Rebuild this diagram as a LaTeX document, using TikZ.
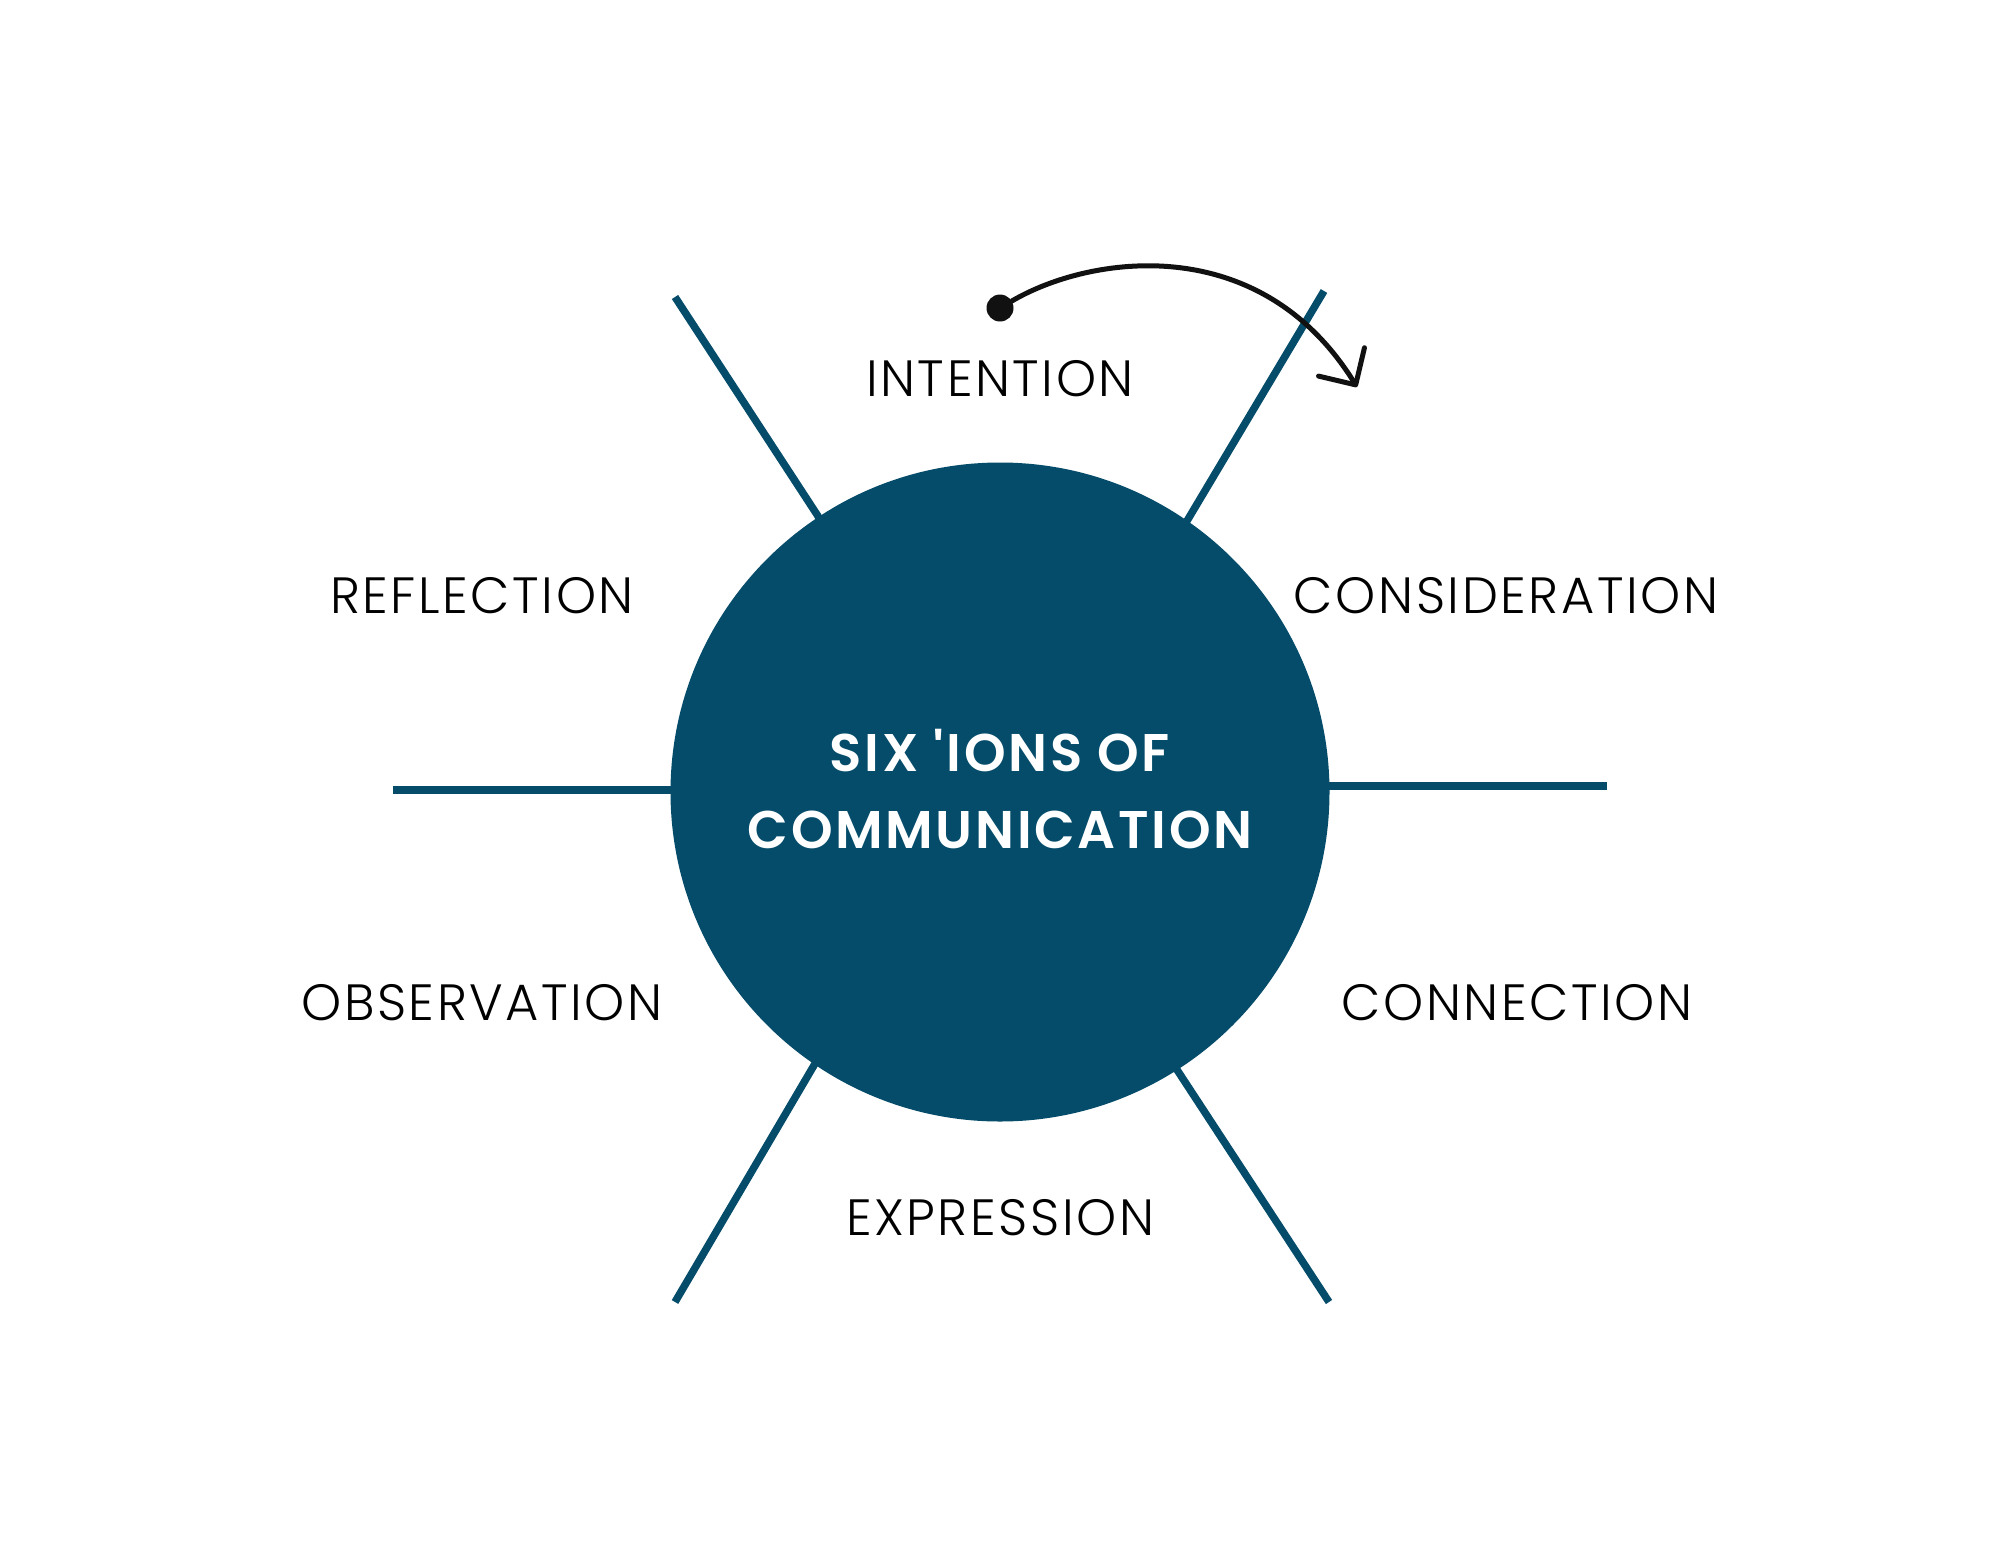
\documentclass[tikz,border=0pt]{standalone}
\usepackage{fontspec}
\setmainfont{Poppins}
\newfontfamily\labfont{Poppins Light}[LetterSpace=5]
\newfontfamily\titfont{Poppins SemiBold}[LetterSpace=5]
\usetikzlibrary{arrows.meta}
\definecolor{ionblue}{HTML}{044C6A}
\definecolor{inkblack}{HTML}{111111}
\tikzset{
  spoke/.style={draw=ionblue, line width=7.5pt},
  lab/.style={font=\labfont\fontsize{51}{60}\selectfont, text=black, inner sep=0pt},
  hub/.style={circle, fill=ionblue, minimum size=659pt, inner sep=0pt, outer sep=0pt},
  titletext/.style={text=white, align=center, inner sep=0pt,
    font=\titfont\fontsize{53}{77}\selectfont},
  dotnode/.style={circle, fill=inkblack, minimum size=27pt, inner sep=0pt},
  curved/.style={draw=inkblack, line width=5pt, line cap=round,
    -{Straight Barb[length=27pt, width=54pt, line cap=round, line join=round]}}
}
\begin{document}
\begin{tikzpicture}[x=1pt, y=-1pt]
\useasboundingbox (0,0) rectangle (2000,1545);
% spokes
\coordinate (ulo) at (675,297);   \coordinate (uli) at (829,533);
\coordinate (uro) at (1324,291);  \coordinate (uri) at (1178,536);
\coordinate (lo)  at (393,790);   \coordinate (li)  at (690,790);
\coordinate (ro)  at (1607,786);  \coordinate (ri)  at (1310,786);
\coordinate (llo) at (675,1302);  \coordinate (lli) at (823,1050);
\coordinate (lro) at (1329,1302); \coordinate (lri) at (1168,1056);
\draw[spoke] (ulo) -- (uli);
\draw[spoke] (uro) -- (uri);
\draw[spoke] (lo) -- (li);
\draw[spoke] (ro) -- (ri);
\draw[spoke] (llo) -- (lli);
\draw[spoke] (lro) -- (lri);
% hub
\node[hub] (hub) at (1000,792) {};
\node[titletext] (title) at (1000,789) {SIX {\char"27}IONS OF\\COMMUNICATION};
% labels
\node[lab] (intention) at (1000,379) {INTENTION};
\node[lab] (reflection) at (482,596) {REFLECTION};
\node[lab] (consideration) at (1506,596) {CONSIDERATION};
\node[lab] (observation) at (482,1003) {OBSERVATION};
\node[lab] (connection) at (1517,1003) {CONNECTION};
\node[lab] (expression) at (1000,1218) {EXPRESSION};
% arrow
\node[dotnode] (start) at (1000,308) {};
\coordinate (tip) at (1357,387);
\draw[curved] (start) .. controls (1090,255) and (1260,230) .. (tip);
\end{tikzpicture}
\end{document}
